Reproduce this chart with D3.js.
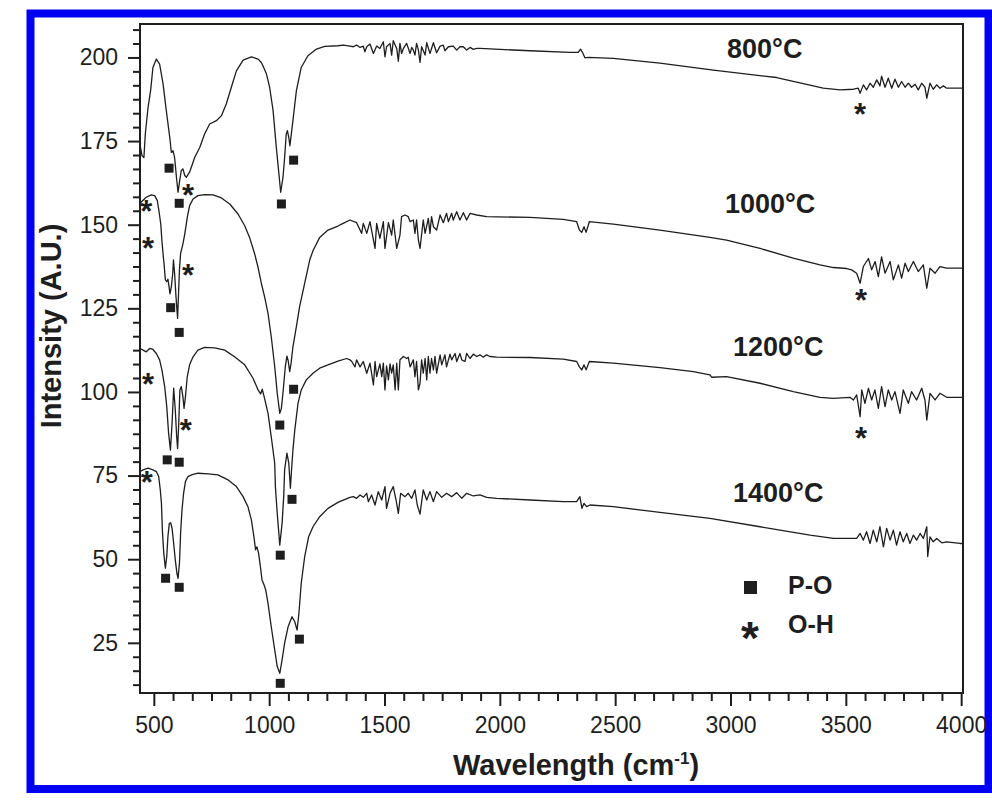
<!DOCTYPE html>
<html>
<head>
<meta charset="utf-8">
<script src="https://cdn.jsdelivr.net/npm/d3@7"></script>
<style>
  body { margin: 0; background: #fff; }
  svg text { font-family: 'Liberation Sans', Arial, sans-serif; fill: #1e1e1e; }
</style>
</head>
<body>
<svg id="chart" width="992" height="809"></svg>
<script>
//
// Data (wavenumber cm-1, intensity A.U.)
//

var xTicks = [500, 1000, 1500, 2000, 2500, 3000, 3500, 4000]
var yTicks = [25, 50, 75, 100, 125, 150, 175, 200]
var seriesNames = ['800°C', '1000°C', '1200°C', '1400°C']

var spectrum800 = [
  [441,173.5],[449,170.6],[457,170.1],[463,177.1],[475,185.1],[486,190.1],[496,197],[511,199.5],[525,198],[540,192.1],
  [554,184.1],[569,176.1],[576,171.6],[583,172.1],[590,170.1],[598,164.2],[605,159.7],[612,163.2],[619,166.2],[626,166.7],
  [634,164.7],[641,164.2],[655,165.7],[677,170.1],[699,173.1],[720,177.1],[742,180.1],[771,181.1],[793,182.6],[814,186.1],
  [836,191.1],[858,196],[887,199.2],[923,200.2],[952,199.5],[966,198.5],[973,197.5],[988,195.1],[1002,191.1],[1017,184.1],
  [1031,173.1],[1050,159.7],[1060,164.2],[1067,170.1],[1074,177.1],[1079,178.1],[1085,176.1],[1090,173.6],[1096,177.1],
  [1103,181.1],[1118,190.1],[1139,197],[1168,200.5],[1205,202.5],[1241,203.3],[1298,203.5],[1322,203.7],
  [1350,203.4],[1365,203.2],[1379,203.7],[1394,203.0],[1408,203.4],[1415,201.7],[1423,203.2],[1437,204.0],[1452,201.2],
  [1466,203.4],[1480,202.7],[1495,204.7],[1502,200.2],[1509,203.2],[1524,204.2],[1531,200.7],[1538,205.0],[1553,202.7],
  [1560,198.9],[1567,204.2],[1574,201.2],[1582,202.7],[1596,204.2],[1611,201.2],[1618,203.0],[1625,202.2],[1632,200.7],
  [1639,204.2],[1647,202.2],[1654,198.5],[1661,203.2],[1676,200.7],[1683,204.4],[1697,201.2],[1712,204.4],[1726,201.4],
  [1741,203.4],[1755,203.7],[1762,202.0],[1777,203.2],[1798,203.4],[1813,202.2],[1827,203.2],[1842,203.2],[1856,202.2],
  [1871,203.0],[1885,202.4],[1900,202.7],[1914,202.7],[2131,202.0],[2304,201.5],[2340,201.5],[2350,202.5],[2359,201.4],
  [2369,199.9],[2384,200.0],[2492,199.7],[2694,198.3],[2926,196.2],[3200,194.0],[3402,190.8],[3475,190.3],[3533,190.5],
  [3554,190.8],[3562,189.3],[3576,191.8],[3590,190.3],[3605,192.3],[3619,191.1],[3634,193.3],[3648,191.5],[3655,194.4],
  [3670,191.1],[3684,193.8],[3699,190.8],[3713,193.5],[3728,191.1],[3742,192.8],[3757,191.1],[3771,192.3],[3785,191.1],
  [3800,192.0],[3814,190.3],[3829,192.3],[3843,191.1],[3851,187.8],[3865,192.3],[3879,190.5],[3894,191.8],[3908,190.8],
  [3923,191.5],[3937,190.8],[3995,190.8],[4005,190.8]
]

var spectrum1000 = [
  [441,156.5],[467,158.2],[489,158.9],[504,158.7],[515,157.2],[522,154.2],[530,150.2],[535,145.2],[540,141.2],[544,138.5],
  [550,133.5],[556,133.0],[561,133.7],[566,131.5],[570,129.3],[576,131.5],[582,135.5],[585,139.5],[590,135.5],[596,128.5],
  [603,122.0],[606,127.5],[611,136.5],[616,141.4],[626,144.2],[634,147.2],[645,152.2],[655,155.7],[670,157.7],[691,158.7],
  [720,159.0],[757,158.9],[793,158.0],[829,156.2],[865,153.2],[894,149.7],[915,146.2],[937,141.3],[951,137.5],[966,132.5],
  [980,128.5],[995,123.5],[1009,116.5],[1024,107.6],[1035,99.6],[1046,93.6],[1053,95.1],[1061,100.6],[1070,107.6],
  [1077,110.7],[1082,109.5],[1089,106.1],[1095,108.6],[1103,113.5],[1118,119.5],[1132,125.5],[1154,132.5],[1176,139.5],
  [1190,142.2],[1219,146.2],[1255,148.4],[1298,149.6],[1321,150.4],
  [1350,151.4],[1379,150.6],[1401,147.4],[1408,150.4],[1423,147.4],[1437,150.9],[1459,142.9],[1466,150.4],[1480,145.9],
  [1495,150.9],[1502,142.9],[1517,150.6],[1531,146.9],[1538,151.4],[1553,142.9],[1567,146.9],[1574,152.4],[1589,152.9],
  [1603,152.4],[1611,150.9],[1625,151.4],[1632,147.4],[1639,151.4],[1647,145.4],[1654,142.9],[1668,151.4],[1676,147.4],
  [1690,151.9],[1697,147.4],[1704,152.4],[1712,149.4],[1726,148.4],[1741,152.9],[1755,150.6],[1769,153.4],[1777,150.9],
  [1791,153.4],[1798,151.4],[1813,153.9],[1827,151.4],[1842,153.6],[1856,151.4],[1871,153.4],[1900,152.9],[1943,152.4],
  [2131,152.2],[2275,151.6],[2333,150.9],[2345,148.4],[2355,147.7],[2365,149.4],[2374,147.7],[2388,150.9],[2492,150.2],
  [2694,148.4],[2911,146.2],[2983,145.4],[3128,142.9],[3272,140.0],[3388,138.0],[3446,137.2],[3504,136.9],[3525,136.5],
  [3547,135.5],[3562,132.5],[3576,137.5],[3598,139.9],[3612,136.5],[3627,139.0],[3641,134.5],[3655,140.4],[3670,135.5],
  [3692,139.0],[3706,133.5],[3728,138.0],[3742,134.0],[3757,138.5],[3771,136.0],[3793,139.0],[3814,136.0],[3836,138.0],
  [3851,131.0],[3865,137.0],[3887,135.5],[3908,137.5],[3937,137.0],[3995,137.0],[4005,137.0]
]

var spectrum1200 = [
  [441,113.0],[453,112.5],[467,112.0],[482,113.0],[496,112.7],[511,111.5],[525,109.6],[535,106.6],[547,101.6],[556,95.6],
  [564,87.6],[572,82.6],[579,90.6],[586,101.1],[593,94.6],[599,86.6],[603,83.1],[608,90.6],[613,100.6],[619,101.6],
  [626,98.6],[631,95.1],[637,98.6],[645,104.6],[655,108.1],[670,110.5],[691,112.5],[720,113.3],[764,113.2],[807,112.5],
  [850,110.5],[894,108.1],[930,104.1],[952,100.6],[963,99.4],[970,100.8],[980,98.1],[995,93.6],[1009,86.6],[1024,78.7],
  [1027,71.7],[1035,63.7],[1046,54.2],[1056,60.7],[1063,68.7],[1067,76.7],[1077,81.7],[1085,78.7],[1092,71.2],[1098,77.7],
  [1103,82.6],[1111,88.6],[1125,96.6],[1139,100.6],[1161,103.6],[1190,105.6],[1219,107.1],[1255,108.1],[1298,109.2],
  [1336,110.0],[1350,109.6],[1358,109.1],[1372,107.5],[1379,109.6],[1394,107.5],[1408,109.1],[1423,105.6],[1437,108.6],
  [1452,102.1],[1459,109.1],[1466,104.6],[1480,108.4],[1488,104.6],[1495,108.6],[1502,100.6],[1509,107.8],[1517,103.6],
  [1524,108.4],[1531,105.6],[1538,108.1],[1546,100.6],[1553,108.6],[1560,100.6],[1567,109.6],[1582,110.6],[1596,110.0],
  [1603,110.4],[1611,107.5],[1625,109.6],[1632,104.6],[1639,109.1],[1647,100.6],[1654,102.6],[1661,109.6],[1668,105.6],
  [1676,110.0],[1683,103.6],[1690,110.6],[1697,105.6],[1704,110.0],[1712,106.6],[1719,110.6],[1726,105.6],[1741,111.1],
  [1748,108.1],[1762,111.1],[1769,107.5],[1784,111.3],[1791,109.6],[1806,111.5],[1813,109.1],[1827,111.5],[1835,109.6],
  [1849,109.1],[1856,111.5],[1871,110.0],[1885,111.3],[1900,110.6],[1914,111.1],[1928,110.4],[1943,111.1],[1957,110.6],
  [1986,110.4],[2131,110.3],[2275,109.8],[2333,109.1],[2345,107.5],[2355,106.6],[2365,108.1],[2374,106.6],[2388,109.1],
  [2492,108.6],[2694,107.3],[2839,106.1],[2911,105.1],[2918,104.4],[2983,104.6],[3128,102.6],[3272,100.1],[3388,98.4],
  [3446,98.1],[3518,98.4],[3533,97.6],[3547,99.1],[3562,92.6],[3569,100.6],[3583,96.6],[3598,101.1],[3612,97.6],
  [3626,100.6],[3641,95.1],[3655,101.6],[3670,95.6],[3684,100.6],[3699,97.6],[3713,100.1],[3735,93.6],[3749,100.6],
  [3771,96.6],[3785,100.1],[3807,97.6],[3829,101.1],[3843,97.6],[3851,91.6],[3865,99.6],[3887,97.6],[3908,99.6],
  [3937,98.4],[3995,98.4],[4005,98.4]
]

var spectrum1400 = [
  [441,76.2],[453,76.7],[475,77.2],[496,76.7],[511,76.2],[521,74.7],[528,70.7],[533,66.7],[537,58.7],[543,51.8],
  [550,47.3],[556,50.8],[561,56.7],[567,60.7],[573,60.9],[579,59.2],[586,54.7],[593,49.8],[600,45.8],[605,44.3],
  [611,48.8],[616,57.7],[622,64.7],[629,69.7],[637,73.2],[648,74.7],[663,75.2],[691,75.7],[735,75.5],[778,75.2],
  [822,73.7],[858,71.7],[887,68.7],[908,65.7],[923,61.7],[934,56.7],[941,52.8],[947,53.7],[954,51.8],[962,47.8],
  [969,43.8],[978,42.3],[985,40.8],[995,36.8],[1009,29.8],[1024,22.9],[1035,17.9],[1046,15.9],[1056,19.9],[1067,24.9],
  [1082,29.8],[1099,32.8],[1111,31.3],[1121,28.8],[1129,33.8],[1139,42.8],[1154,50.8],[1171,56.7],[1190,59.7],
  [1219,62.7],[1255,65.2],[1298,67.0],[1350,68.5],[1365,68.7],[1379,68.2],[1394,69.2],[1408,68.5],[1423,69.7],
  [1430,67.2],[1444,69.2],[1459,66.2],[1473,70.2],[1488,67.7],[1502,71.7],[1509,65.2],[1524,69.7],[1538,71.7],
  [1550,67.7],[1560,63.7],[1570,69.7],[1589,68.7],[1603,69.7],[1618,68.2],[1632,70.7],[1642,66.2],[1654,63.5],
  [1668,70.7],[1683,67.7],[1697,70.2],[1712,67.2],[1726,70.2],[1748,68.5],[1769,69.7],[1791,68.7],[1813,69.9],
  [1835,68.2],[1856,69.7],[1885,68.9],[1914,69.2],[1943,68.5],[1986,68.2],[2131,67.7],[2275,67.2],[2333,67.2],
  [2347,68.7],[2356,65.2],[2365,66.7],[2376,65.7],[2391,66.2],[2492,65.7],[2694,64.0],[2911,62.2],[3128,59.7],
  [3345,57.2],[3446,56.2],[3547,56.2],[3562,57.7],[3576,55.7],[3590,58.2],[3605,54.7],[3619,58.7],[3634,55.2],
  [3648,59.7],[3663,53.7],[3677,59.2],[3692,55.7],[3706,58.7],[3720,54.2],[3735,58.2],[3749,55.2],[3764,57.7],
  [3778,54.7],[3793,57.2],[3807,55.7],[3822,57.7],[3836,56.2],[3851,59.7],[3855,50.8],[3865,56.7],[3879,55.2],
  [3894,56.2],[3916,54.9],[3937,55.2],[3995,54.7],[4005,54.7]
]

// band markers: P-O squares and O-H asterisks
var poMarks = [
  [566,166.9],[610,156.4],[1053,156.2],[1106,169.3],
  [573,125.2],[610,117.8],[1046,90.1],[1106,100.8],
  [558,79.7],[610,79.0],[1048,51.2],[1099,67.9],
  [551,44.3],[610,41.6],[1048,12.9],[1131,26.1]
]
var ohMarks = [
  [648,161.0],[3562,185.3],
  [467,156.2],[475,145.0],[648,137.0],[3566,129.5],
  [475,104.4],[638,90.8],[3566,88.4],
  [469,75.2]
]

//
// Layout
//

var width = 992
var height = 809
var plot = { left: 140, right: 963, top: 24, bottom: 693 }
var ink = '#1e1e1e'
// where the temperature labels sit, in data units (start, baseline)
var labelAt = [[2985, 199.8], [2976, 153.5], [3011, 110.7], [3011, 67.1]]

var svg = d3.select('#chart')
var x = d3.scaleLinear().domain([440, 4008]).range([plot.left, plot.right])
var y = d3.scaleLinear().domain([10, 210]).range([plot.bottom, plot.top])

// minor ticks: five between each pair of majors
function minors(ticks, domain) {
  var step = (ticks[1] - ticks[0]) / 6
  var out = []
  for (var v = ticks[0] - 6 * step; v <= ticks[ticks.length - 1] + 6 * step; v += step) {
    var r = Math.round((v - ticks[0]) / step)
    if (r % 6 === 0) continue
    if (v >= domain[0] && v <= domain[1]) out.push(v)
  }
  return out
}

// blue page frame
svg.append('rect')
  .attr('x', 30.5).attr('y', 13.5)
  .attr('width', 958).attr('height', 775.5)
  .attr('fill', 'none').attr('stroke', '#0000f2').attr('stroke-width', 8)

svg.append('clipPath').attr('id', 'clip')
  .append('rect')
  .attr('x', plot.left).attr('y', plot.top)
  .attr('width', plot.right - plot.left).attr('height', plot.bottom - plot.top)

//
// Axes
//

function styleAxis(g) {
  g.select('.domain').remove()
  g.selectAll('.tick line').attr('stroke', ink).attr('stroke-width', 2)
  g.selectAll('.tick text')
    .attr('fill', ink)
    .style('font-size', '23px')
    .style('font-family', "'Liberation Sans', Arial, sans-serif")
}

svg.append('g')
  .attr('transform', 'translate(0,' + plot.bottom + ')')
  .call(d3.axisBottom(x).tickValues(minors(xTicks, x.domain())).tickSize(8).tickFormat(''))
  .call(styleAxis)

svg.append('g')
  .attr('transform', 'translate(0,' + plot.bottom + ')')
  .call(d3.axisBottom(x).tickValues(xTicks).tickSize(13).tickPadding(10.5).tickFormat(d3.format('d')))
  .call(styleAxis)

svg.append('g')
  .attr('transform', 'translate(' + plot.left + ',0)')
  .call(d3.axisLeft(y).tickValues(minors(yTicks, y.domain())).tickSize(7).tickFormat(''))
  .call(styleAxis)

svg.append('g')
  .attr('transform', 'translate(' + plot.left + ',0)')
  .call(d3.axisLeft(y).tickValues(yTicks).tickSize(12).tickPadding(10).tickFormat(d3.format('d')))
  .call(styleAxis)

svg.append('rect')
  .attr('x', plot.left).attr('y', plot.top)
  .attr('width', plot.right - plot.left).attr('height', plot.bottom - plot.top)
  .attr('fill', 'none').attr('stroke', ink).attr('stroke-width', 2)

// axis titles
var xTitle = svg.append('text')
  .attr('x', 453).attr('y', 775)
  .style('font-size', '29px').style('font-weight', 'bold')
xTitle.append('tspan').text('Wavelength (cm')
xTitle.append('tspan').attr('dy', -11).style('font-size', '17px').text('-1')
xTitle.append('tspan').attr('dy', 11).text(')')

svg.append('text')
  .attr('transform', 'translate(61,' + 326 + ') rotate(-90)')
  .attr('text-anchor', 'middle')
  .style('font-size', '29px').style('font-weight', 'bold')
  .text('Intensity (A.U.)')

//
// Spectra
//

var line = d3.line()
  .x(function (d) { return x(d[0]) })
  .y(function (d) { return y(d[1]) })

var spectra = [spectrum800, spectrum1000, spectrum1200, spectrum1400]

svg.append('g').attr('clip-path', 'url(#clip)')
  .selectAll('path')
  .data(spectra)
  .enter().append('path')
  .attr('d', line)
  .attr('fill', 'none')
  .attr('stroke', ink)
  .attr('stroke-width', 1.3)
  .attr('stroke-linejoin', 'round')

svg.append('g')
  .selectAll('text')
  .data(seriesNames)
  .enter().append('text')
  .attr('x', function (d, i) { return x(labelAt[i][0]) })
  .attr('y', function (d, i) { return y(labelAt[i][1]) })
  .style('font-size', '27px').style('font-weight', 'bold')
  .text(function (d) { return d })

//
// Markers
//

var sq = 9
svg.append('g')
  .selectAll('rect')
  .data(poMarks)
  .enter().append('rect')
  .attr('x', function (d) { return x(d[0]) - sq / 2 })
  .attr('y', function (d) { return y(d[1]) - sq / 2 })
  .attr('width', sq).attr('height', sq)
  .attr('fill', ink)

var starSize = 31
svg.append('g')
  .selectAll('text')
  .data(ohMarks)
  .enter().append('text')
  .attr('x', function (d) { return x(d[0]) })
  .attr('y', function (d) { return y(d[1]) + starSize * 0.58 })
  .attr('text-anchor', 'middle')
  .style('font-size', starSize + 'px').style('font-weight', 'bold')
  .text('*')

// legend
var legend = svg.append('g')
legend.append('rect')
  .attr('x', 744).attr('y', 581).attr('width', 13).attr('height', 13)
  .attr('fill', ink)
legend.append('text')
  .attr('x', 750).attr('y', 627 + 46 * 0.58)
  .attr('text-anchor', 'middle')
  .style('font-size', '46px').style('font-weight', 'bold')
  .text('*')
legend.append('text')
  .attr('x', 788).attr('y', 594)
  .style('font-size', '25px').style('font-weight', 'bold')
  .text('P-O')
legend.append('text')
  .attr('x', 788).attr('y', 633)
  .style('font-size', '25px').style('font-weight', 'bold')
  .text('O-H')
</script>
</body>
</html>
